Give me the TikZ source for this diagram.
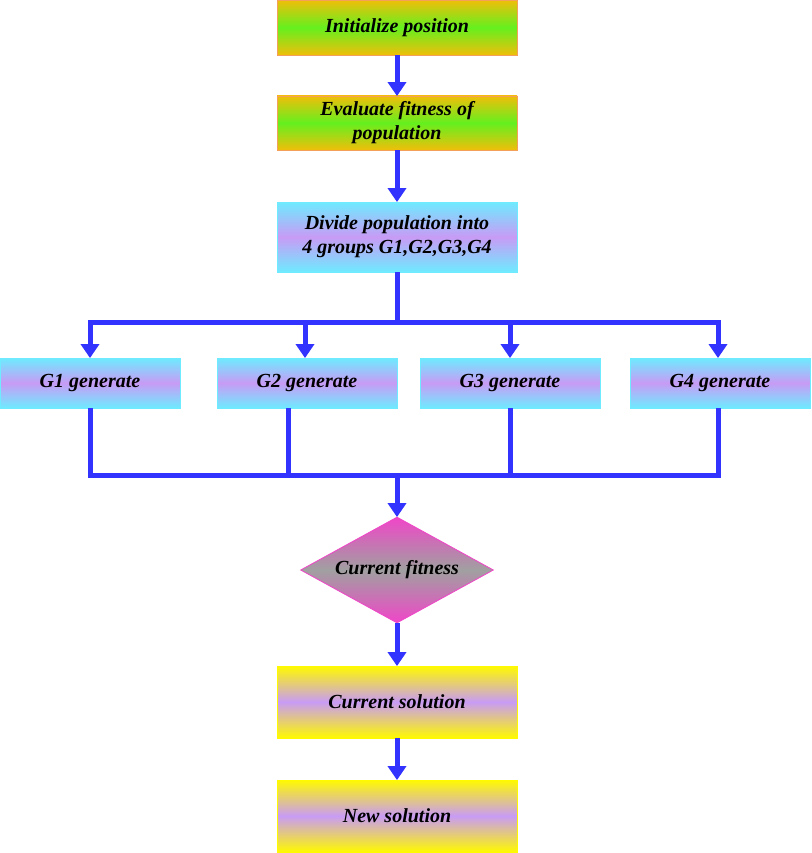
\documentclass[tikz,border=0pt]{standalone}
\usepackage{fontspec}
\setmainfont{Liberation Serif}
\usetikzlibrary{shapes.geometric,arrows.meta}
\definecolor{ab}{RGB}{51,51,255}
\definecolor{og}{RGB}{240,190,10}
\definecolor{gr}{RGB}{100,240,30}
\definecolor{cy}{RGB}{110,235,255}
\definecolor{lv}{RGB}{200,155,245}
\definecolor{ye}{RGB}{255,250,0}
\definecolor{pk}{RGB}{240,70,200}
\definecolor{gy}{RGB}{160,160,160}
\begin{document}
\begin{tikzpicture}[x=1pt,y=-1pt,
  txt/.style={font=\bfseries\itshape\fontsize{20}{24}\selectfont,align=center,text=black,inner sep=0pt},
  gbox/.style={txt,rectangle,minimum width=240pt,draw={rgb,255:red,245;green,160;blue,90},line width=0.8pt,top color=og,bottom color=og,middle color=gr},
  cbox/.style={txt,rectangle,draw=cy,line width=0.8pt,top color=cy,bottom color=cy,middle color=lv},
  ybox/.style={txt,rectangle,minimum width=240pt,minimum height=72pt,draw=ye,line width=0.8pt,top color=ye,bottom color=ye,middle color=lv},
  con/.style={ab,line width=5pt},
  arr/.style={ab,line width=5pt,-{Triangle[length=14pt,width=18pt]},shorten >=-0.5pt}]
\useasboundingbox (0,0) rectangle (811,853);
\node[gbox,minimum height=55pt] (init) at (397,27.5) {Initialize position};
\node[gbox,minimum height=54pt] (eval) at (397,123) {Evaluate fitness of\\population};
\node[cbox,minimum width=240pt,minimum height=70pt] (div) at (397,237) {Divide population into\\4 groups G1,G2,G3,G4};
\node[cbox,minimum width=180pt,minimum height=50pt] (g1) at (90,383) {G1 generate};
\node[cbox,minimum width=180pt,minimum height=50pt] (g2) at (307,383) {G2 generate};
\node[cbox,minimum width=180pt,minimum height=50pt] (g3) at (510,383) {G3 generate};
\node[cbox,minimum width=180pt,minimum height=50pt] (g4) at (720,383) {G4 generate};
\node[txt,diamond,aspect=1.82,minimum width=193pt,minimum height=106pt,draw=pk,line width=0.8pt,top color=pk,bottom color=pk,middle color=gy] (fit) at (397,570) {Current fitness};
\node[ybox] (cur) at (397,702) {Current solution};
\node[ybox] (new) at (397,816) {New solution};
\coordinate (s) at (397,322);
\coordinate (j) at (397,475);
\draw[arr] (init) -- (eval);
\draw[arr] (eval) -- (div);
\draw[con] (div) -- (s);
\draw[con] (90,322) -- (718,322);
\draw[arr] (90,320) -- (g1.north -| 90,0);
\draw[arr] (305,320) -- (g2.north -| 305,0);
\draw[arr] (510,320) -- (g3.north -| 510,0);
\draw[arr] (718,320) -- (g4.north -| 718,0);
\draw[con] (g1.south -| 90,0) -- (90,475) -- (718,475) -- (g4.south -| 718,0);
\draw[con] (g2.south -| 288,0) -- (288,475);
\draw[con] (g3.south -| 510,0) -- (510,475);
\draw[arr] (j) -- (fit.north);
\draw[arr] (fit.south) -- (cur);
\draw[arr] (cur) -- (new);
\end{tikzpicture}
\end{document}
